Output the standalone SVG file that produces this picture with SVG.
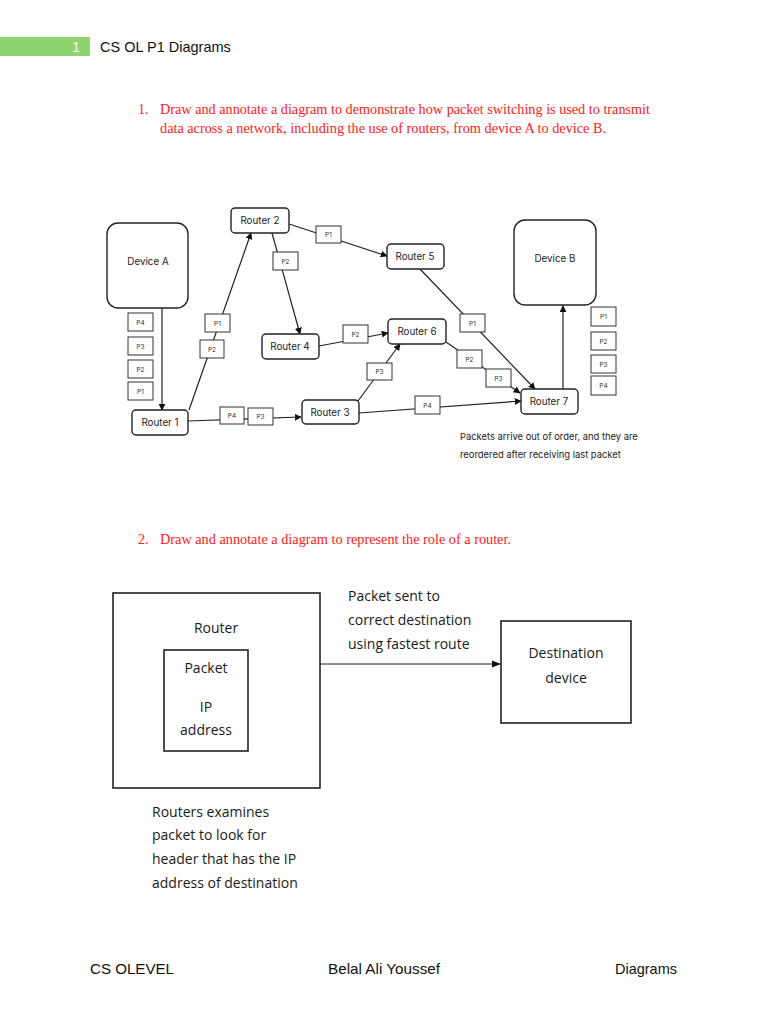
<svg xmlns="http://www.w3.org/2000/svg" width="768" height="1024" viewBox="0 0 768 1024">
<defs>
<marker id="ah" viewBox="0 0 10 10" refX="9" refY="5" markerWidth="7" markerHeight="7" orient="auto" markerUnits="userSpaceOnUse"><path d="M0,0 L10,5 L0,10 z" fill="#111"/></marker>
<marker id="ah2" viewBox="0 0 10 10" refX="9" refY="5" markerWidth="9" markerHeight="9" orient="auto" markerUnits="userSpaceOnUse"><path d="M0,1 L10,5 L0,9 z" fill="#111"/></marker>
</defs>
<style>
.hdr{font-family:"Liberation Sans",Arial,sans-serif;fill:#111}
.q{font-family:"Liberation Serif","Times New Roman",serif;font-size:14px;fill:#ff1a1a}
.node{fill:#fff;stroke:#222;stroke-width:1.4}
.lbl{font-family:Inter,"Liberation Sans",sans-serif;font-size:9.8px;fill:#222;text-anchor:middle}
.pk{fill:#fff;stroke:#333;stroke-width:1}
.pkt{font-family:Inter,"Liberation Sans",sans-serif;font-size:6.5px;fill:#333;text-anchor:middle}
.ln{stroke:#222;stroke-width:1.2;fill:none;marker-end:url(#ah)}
.note{font-family:Inter,"Liberation Sans",sans-serif;font-size:9.4px;fill:#222}
.box2{fill:#fff;stroke:#222;stroke-width:1.6}
.c{font-family:"Open Sans","Noto Sans",sans-serif;font-size:14px;fill:#1a1a1a}
.cm{text-anchor:middle}
</style>
<rect width="768" height="1024" fill="#fff"/>
<g id="header">
<rect x="0" y="37" width="90" height="19" fill="#8fd46f"/>
<text x="80" y="52" class="hdr" font-size="14" style="fill:#fff" text-anchor="end">1</text>
<text x="100" y="52" class="hdr" font-size="14.5">CS OL P1 Diagrams</text>
</g>
<g id="question1">
<text x="138" y="114" class="q">1.</text>
<text x="160" y="114" class="q" textLength="490" lengthAdjust="spacingAndGlyphs">Draw and annotate a diagram to demonstrate how packet switching is used to transmit</text>
<text x="160" y="133" class="q" textLength="446" lengthAdjust="spacingAndGlyphs">data across a network, including the use of routers, from device A to device B.</text>
</g>
<g id="connectors1">
<line x1="162" y1="308" x2="162" y2="410" class="ln"/>
<line x1="189" y1="410" x2="251" y2="233" class="ln"/>
<line x1="272" y1="233" x2="300" y2="334" class="ln"/>
<line x1="289" y1="224" x2="387" y2="256" class="ln"/>
<line x1="319" y1="346" x2="388" y2="333" class="ln"/>
<line x1="358" y1="401" x2="400" y2="344" class="ln"/>
<line x1="188" y1="421" x2="301" y2="417" class="ln"/>
<line x1="420" y1="269" x2="535" y2="389" class="ln"/>
<line x1="446" y1="342" x2="520" y2="393" class="ln"/>
<line x1="359" y1="413" x2="521" y2="401" class="ln"/>
<line x1="563" y1="389" x2="563" y2="306" class="ln"/>
</g>
<g id="deviceA"><rect x="107" y="223" width="81" height="85" rx="11" class="node"/><text x="148" y="265" class="lbl">Device A</text></g>
<g id="deviceB"><rect x="514" y="220" width="82" height="85" rx="11" class="node"/><text x="555" y="262" class="lbl">Device B</text></g>
<g id="router1"><rect x="132" y="410" width="56" height="25" rx="4" class="node"/><text x="160" y="426" class="lbl">Router 1</text></g>
<g id="router2"><rect x="231" y="208" width="58" height="25" rx="4" class="node"/><text x="260" y="224" class="lbl">Router 2</text></g>
<g id="router3"><rect x="302" y="400" width="57" height="24" rx="4" class="node"/><text x="330" y="416" class="lbl">Router 3</text></g>
<g id="router4"><rect x="262" y="334" width="57" height="25" rx="4" class="node"/><text x="290" y="350" class="lbl">Router 4</text></g>
<g id="router5"><rect x="387" y="244" width="57" height="25" rx="4" class="node"/><text x="415" y="260" class="lbl">Router 5</text></g>
<g id="router6"><rect x="388" y="319" width="58" height="25" rx="4" class="node"/><text x="417" y="335" class="lbl">Router 6</text></g>
<g id="router7"><rect x="521" y="389" width="57" height="25" rx="4" class="node"/><text x="549" y="405" class="lbl">Router 7</text></g>
<g id="packets">
<rect x="128" y="313" width="25" height="18" class="pk"/><text x="140.5" y="325" class="pkt">P4</text>
<rect x="128" y="337" width="25" height="18" class="pk"/><text x="140.5" y="349" class="pkt">P3</text>
<rect x="128" y="360" width="25" height="18" class="pk"/><text x="140.5" y="372" class="pkt">P2</text>
<rect x="128" y="382" width="25" height="18" class="pk"/><text x="140.5" y="394" class="pkt">P1</text>
<rect x="205" y="314" width="25" height="18" class="pk"/><text x="217.5" y="326" class="pkt">P1</text>
<rect x="200" y="340" width="24" height="18" class="pk"/><text x="212" y="352" class="pkt">P2</text>
<rect x="273" y="252" width="25" height="18" class="pk"/><text x="285.5" y="264" class="pkt">P2</text>
<rect x="316" y="226" width="25" height="17" class="pk"/><text x="328.5" y="237" class="pkt">P1</text>
<rect x="220" y="407" width="24" height="17" class="pk"/><text x="232" y="418" class="pkt">P4</text>
<rect x="248" y="408" width="25" height="17" class="pk"/><text x="260.5" y="419" class="pkt">P3</text>
<rect x="343" y="325" width="25" height="18" class="pk"/><text x="355.5" y="337" class="pkt">P2</text>
<rect x="367" y="363" width="25" height="17" class="pk"/><text x="379.5" y="374" class="pkt">P3</text>
<rect x="460" y="314" width="25" height="18" class="pk"/><text x="472.5" y="326" class="pkt">P1</text>
<rect x="457" y="350" width="25" height="18" class="pk"/><text x="469.5" y="362" class="pkt">P2</text>
<rect x="486" y="369" width="25" height="18" class="pk"/><text x="498.5" y="381" class="pkt">P3</text>
<rect x="415" y="396" width="25" height="18" class="pk"/><text x="427.5" y="408" class="pkt">P4</text>
<rect x="591" y="307" width="25" height="19" class="pk"/><text x="603.5" y="319" class="pkt">P1</text>
<rect x="591" y="332" width="25" height="18" class="pk"/><text x="603.5" y="344" class="pkt">P2</text>
<rect x="591" y="355" width="25" height="18" class="pk"/><text x="603.5" y="367" class="pkt">P3</text>
<rect x="591" y="376" width="25" height="19" class="pk"/><text x="603.5" y="388" class="pkt">P4</text>
</g>
<g id="note1">
<text x="460" y="440" class="note">Packets arrive out of order, and they are</text>
<text x="460" y="458" class="note">reordered after receiving last packet</text>
</g>
<g id="question2">
<text x="138" y="544" class="q">2.</text>
<text x="160" y="544" class="q" textLength="351" lengthAdjust="spacingAndGlyphs">Draw and annotate a diagram to represent the role of a router.</text>
</g>
<g id="connectors2">
<line x1="320" y1="664" x2="500" y2="664" stroke="#222" stroke-width="1" marker-end="url(#ah2)"/>
</g>
<g id="router"><rect x="113" y="593" width="207" height="195" class="box2"/><text x="216" y="633" class="c cm">Router</text></g>
<g id="packet"><rect x="164" y="650" width="84" height="101" class="box2" stroke-width="1.3"/>
<text x="206" y="673" class="c cm">Packet</text><text x="206" y="712" class="c cm">IP</text><text x="206" y="735" class="c cm">address</text></g>
<g id="destination"><rect x="501" y="621" width="130" height="102" class="box2"/>
<text x="566" y="658" class="c cm">Destination</text><text x="566" y="683" class="c cm">device</text></g>
<g id="note2a">
<text x="348" y="601" class="c">Packet sent to</text>
<text x="348" y="625" class="c">correct destination</text>
<text x="348" y="649" class="c">using fastest route</text>
</g>
<g id="note2b">
<text x="152" y="817" class="c">Routers examines</text>
<text x="152" y="840" class="c">packet to look for</text>
<text x="152" y="864" class="c">header that has the IP</text>
<text x="152" y="888" class="c">address of destination</text>
</g>
<g id="footer">
<text x="90" y="974" class="hdr" font-size="15" textLength="84" lengthAdjust="spacingAndGlyphs">CS OLEVEL</text>
<text x="328" y="974" class="hdr" font-size="15" textLength="112" lengthAdjust="spacingAndGlyphs">Belal Ali Youssef</text>
<text x="677" y="974" class="hdr" font-size="15" text-anchor="end" textLength="62" lengthAdjust="spacingAndGlyphs">Diagrams</text>
</g>
</svg>
